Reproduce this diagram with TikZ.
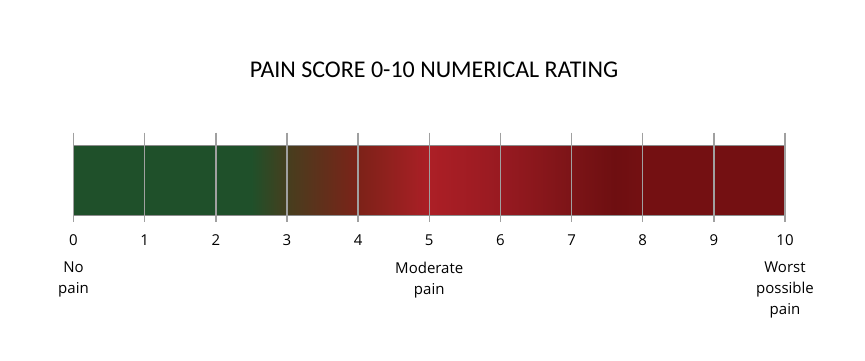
\documentclass[tikz,border=0pt]{standalone}
\usepackage{fontspec}
\setmainfont{Open Sans}
\newfontfamily\titlefont{Carlito}
\definecolor{cg}{RGB}{31,80,42}
\definecolor{cthree}{RGB}{70,62,30}
\definecolor{cfour}{RGB}{124,34,24}
\definecolor{cfive}{RGB}{172,31,38}
\definecolor{csix}{RGB}{152,26,33}
\definecolor{cseven}{RGB}{124,20,23}
\definecolor{cseventy}{RGB}{110,15,17}
\definecolor{ceight}{RGB}{116,16,18}
\definecolor{tickgray}{RGB}{160,160,160}
\tikzset{
  titletext/.style={font=\titlefont\fontsize{24}{28}\selectfont, text=black},
  numtext/.style={font=\fontsize{15}{20}\selectfont, inner sep=0pt, text=black},
  labtext/.style={font=\fontsize{15}{21}\selectfont, inner sep=0pt, align=center, anchor=north, text=black},
  tickline/.style={draw=tickgray, line width=1.4pt},
  edgeline/.style={draw=black!45, line width=0.8pt}
}
\begin{document}
\begin{tikzpicture}[x=1pt,y=1pt]
\useasboundingbox (0,0) rectangle (865,360);
\fill[white] (0,0) rectangle (865,360);
% gradient bar
\foreach \a/\b/\ca/\cb in {0/2.5/cg/cg, 2.5/3/cg/cthree, 3/4/cthree/cfour, 4/5/cfour/cfive, 5/6/cfive/csix, 6/7/csix/cseven, 7/7.6/cseven/cseventy, 7.6/8/cseventy/ceight, 8/10/ceight/ceight}
  \shade[left color=\ca, right color=\cb] ({73.5+71.15*\a},145) rectangle ({73.5+71.15*\b+0.4},215);
\coordinate (tl) at (73.5,215);
\coordinate (tr) at ({73.5+71.15*10},215);
\coordinate (bl) at (73.5,145);
\coordinate (br) at ({73.5+71.15*10},145);
\draw[edgeline] (tl) -- (tr);
\draw[edgeline] (bl) -- (br);
% ticks and numbers
\foreach \i in {0,...,10} {
  \coordinate (ttop\i) at ({73.5+71.15*\i},227.5);
  \coordinate (tbot\i) at ({73.5+71.15*\i},138.5);
  \draw[tickline] (ttop\i) -- (tbot\i);
  \node[numtext] (n\i) at ({73.5+71.15*\i},120) {\i};
}
% labels
\node[labtext] (nopain) at ({73.5},98.5) {No\\pain};
\node[labtext] (moderate) at ({73.5+71.15*5},98.5) {Moderate\\pain};
\node[labtext] (worst) at ({73.5+71.15*10},98.5) {Worst\\possible\\pain};
% title
\node[titletext] (title) at (434,290) {PAIN SCORE 0-10 NUMERICAL RATING};
\end{tikzpicture}
\end{document}
